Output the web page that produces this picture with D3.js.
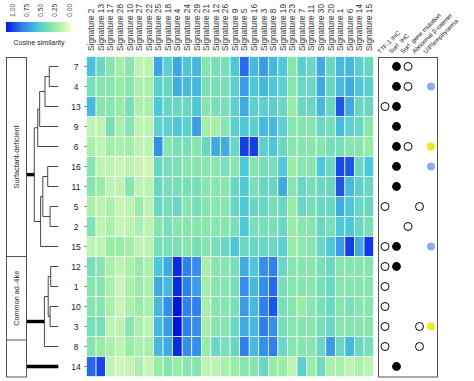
<!DOCTYPE html>
<html><head><meta charset="utf-8">
<script src="https://cdn.jsdelivr.net/npm/d3@7"></script>
<style>body{margin:0;background:#fff}svg{display:block;font-family:"Liberation Sans",Arial,sans-serif}</style>
</head><body>
<svg id="c" width="474" height="381"></svg>
<script>
const signatures = ["Signature 2","Signature 13","Signature 17","Signature 28","Signature 10","Signature 27","Signature 22","Signature 25","Signature 18","Signature 4","Signature 24","Signature 29","Signature 21","Signature 12","Signature 26","Signature 9","Signature 5","Signature 16","Signature 3","Signature 8","Signature 19","Signature 23","Signature 7","Signature 11","Signature 30","Signature 20","Signature 1","Signature 6","Signature 14","Signature 15"];
const samples = ["7","4","13","9","6","16","11","5","2","15","12","1","10","3","8","14"];
const similarity = [
 [0.52,0.4,0.3,0.22,0.3,0.15,0.15,0.62,0.45,0.62,0.5,0.55,0.3,0.35,0.35, 0.5,0.8,0.55,0.65,0.55,0.5,0.3,0.45,0.4,0.6,0.4,0.55,0.55,0.45,0.4],
 [0.35,0.3,0.3,0.25,0.3,0.2,0.2,0.45,0.4,0.6,0.55,0.55,0.35,0.35,0.35, 0.45,0.65,0.5,0.55,0.5,0.45,0.3,0.4,0.4,0.6,0.4,0.55,0.6,0.5,0.45],
 [0.55,0.3,0.3,0.25,0.35,0.2,0.2,0.5,0.4,0.4,0.4,0.5,0.3,0.35,0.35, 0.45,0.6,0.45,0.45,0.45,0.4,0.25,0.4,0.4,0.55,0.4,0.85,0.6,0.4,0.4],
 [0.15,0.15,0.35,0.2,0.3,0.15,0.15,0.45,0.45,0.5,0.45,0.65,0.22,0.22,0.3, 0.45,0.5,0.45,0.55,0.55,0.45,0.3,0.3,0.3,0.4,0.35,0.55,0.45,0.4,0.3],
 [0.2,0.15,0.22,0.2,0.22,0.15,0.15,0.7,0.3,0.35,0.35,0.3,0.4,0.6,0.6, 0.4,0.9,0.9,0.45,0.5,0.4,0.3,0.3,0.3,0.3,0.35,0.35,0.3,0.3,0.25],
 [0.3,0.15,0.15,0.12,0.15,0.12,0.1,0.4,0.35,0.35,0.3,0.3,0.3,0.3,0.35, 0.3,0.5,0.3,0.35,0.35,0.5,0.25,0.3,0.3,0.5,0.4,0.88,0.85,0.4,0.5],
 [0.3,0.25,0.15,0.15,0.3,0.15,0.15,0.4,0.35,0.35,0.35,0.35,0.3,0.3,0.3, 0.4,0.5,0.35,0.4,0.4,0.6,0.3,0.4,0.35,0.4,0.4,0.85,0.55,0.45,0.4],
 [0.2,0.15,0.2,0.12,0.15,0.25,0.15,0.4,0.35,0.4,0.3,0.35,0.3,0.3,0.3, 0.4,0.5,0.4,0.4,0.35,0.4,0.25,0.4,0.35,0.4,0.4,0.6,0.5,0.4,0.4],
 [0.32,0.15,0.2,0.12,0.15,0.2,0.15,0.3,0.35,0.3,0.3,0.3,0.3,0.3,0.3, 0.35,0.5,0.35,0.35,0.35,0.4,0.25,0.3,0.3,0.4,0.35,0.5,0.5,0.4,0.35],
 [0.15,0.15,0.25,0.25,0.22,0.15,0.15,0.35,0.35,0.35,0.3,0.35,0.3,0.35,0.4, 0.5,0.4,0.4,0.4,0.4,0.45,0.25,0.28,0.3,0.4,0.5,0.65,0.9,0.6,0.92],
 [0.35,0.3,0.2,0.15,0.2,0.25,0.2,0.5,0.6,0.95,0.75,0.7,0.2,0.3,0.3, 0.35,0.6,0.5,0.7,0.75,0.4,0.3,0.3,0.3,0.35,0.4,0.3,0.3,0.3,0.3],
 [0.3,0.3,0.2,0.12,0.2,0.25,0.2,0.6,0.55,0.95,0.75,0.65,0.22,0.3,0.3, 0.35,0.7,0.55,0.7,0.8,0.35,0.3,0.3,0.3,0.35,0.4,0.3,0.3,0.3,0.3],
 [0.3,0.3,0.2,0.12,0.2,0.25,0.2,0.55,0.7,1.0,0.75,0.75,0.2,0.3,0.3, 0.35,0.65,0.55,0.75,0.85,0.35,0.3,0.25,0.3,0.35,0.4,0.3,0.35,0.3,0.3],
 [0.35,0.35,0.15,0.15,0.3,0.2,0.15,0.55,0.65,1.0,0.75,0.7,0.2,0.3,0.3, 0.4,0.6,0.55,0.75,0.7,0.35,0.3,0.3,0.3,0.35,0.4,0.3,0.3,0.3,0.3],
 [0.3,0.25,0.2,0.15,0.25,0.2,0.2,0.55,0.6,0.95,0.7,0.7,0.25,0.4,0.35, 0.4,0.75,0.55,0.7,0.75,0.4,0.3,0.3,0.3,0.4,0.65,0.4,0.55,0.4,0.35],
 [0.8,0.88,0.15,0.1,0.12,0.2,0.12,0.25,0.3,0.25,0.3,0.3,0.15,0.15,0.2, 0.25,0.3,0.3,0.4,0.25,0.25,0.15,0.45,0.25,0.38,0.2,0.2,0.15,0.2,0.15]
];
const legendTicks = [1.00, 0.75, 0.50, 0.25, 0.00];
const annotationNames = ["TTF-1 IHC","Surf. IHC","Surf. gene mutation","Abnormal \u03b2-catenin","UIP/emphysema"];
// 1 = positive (filled), 0 = negative (open), null = none
const ttf1 = [null,null,0,null,null,null,null,0,null,0,0,0,0,0,0,null];
const surfIHC = [1,1,1,1,1,1,1,null,null,1,1,null,null,null,null,1];
const surfMutation = [0,0,null,null,0,null,null,null,0,null,null,null,null,null,null,null];
const betaCatenin = [null,null,null,null,null,null,null,0,null,null,null,null,null,0,0,null];
const uipEmphysema = [null,"Emphysema",null,null,"UIP","Emphysema",null,null,null,"Emphysema",null,null,null,"UIP",null,null];
const groups = ["Surfactant-deficient","Common ad.-like",""];
const dendro = [
 {h:0.76, children:[
   {h:0.65, children:[{h:0.59, children:[{h:0.42, children:[{h:0.285, children:[{leaf:"7"},{leaf:"4"}]},{leaf:"13"}]},{leaf:"9"}]},{leaf:"6"}]},
   {h:0.56, children:[{h:0.49, children:[{h:0.335, children:[{leaf:"16"},{leaf:"11"}]},{h:0.26, children:[{leaf:"5"},{leaf:"2"}]}]},{leaf:"15"}]}
 ]},
 {h:0.44, children:[{h:0.32, children:[{h:0.24, children:[{leaf:"12"},{leaf:"1"}]},{h:0.26, children:[{leaf:"10"},{leaf:"3"}]}]},{leaf:"8"}]},
 {leaf:"14"}
];

const svg = d3.select("#c");
svg.append("rect").attr("width",474).attr("height",381).attr("fill","#fff");

const color = d3.scaleLinear().domain([0,0.25,0.5,0.75,1])
  .range(["#f6fcc4","#96eea4","#4cc8d8","#2f7fee","#0016df"]).clamp(true);

const x = d3.scaleBand().domain(signatures).range([86.5, 373.6]);
const y = d3.scaleBand().domain(samples).range([56.5, 376.5]);

// heatmap
const cells = [];
samples.forEach((s,i)=>signatures.forEach((g,j)=>cells.push({s,g,v:similarity[i][j]})));
svg.append("g").selectAll("rect").data(cells).join("rect")
  .attr("x",d=>x(d.g)).attr("y",d=>y(d.s))
  .attr("width",x.bandwidth()).attr("height",y.bandwidth())
  .attr("fill",d=>color(d.v)).attr("stroke","#fff").attr("stroke-width",0.7);

// column labels
svg.append("g").selectAll("text").data(signatures).join("text")
  .attr("transform",d=>`translate(${x(d)+x.bandwidth()/2+3},51) rotate(-90)`)
  .attr("text-anchor","start").attr("font-size",8.3).attr("fill","#333")
  .text(d=>d);

// row ticks
const ya = svg.append("g").attr("transform","translate(86.5,0)")
  .call(d3.axisLeft(y).tickSize(2).tickFormat(""));
ya.select(".domain").remove();
ya.selectAll("line").attr("stroke","#666");

// row labels
svg.append("g").selectAll("text").data(samples).join("text")
  .attr("x",76).attr("y",d=>y(d)+y.bandwidth()/2+3)
  .attr("text-anchor","middle").attr("font-size",8.5).attr("fill","#222").text(d=>d);

// dendrogram
const hx = d3.scaleLinear().domain([0,1]).range([58.3,26.7]);
const dg = svg.append("g").attr("fill","none");
function layout(n){
  if(n.leaf){ n.x = hx(0); n.y = y(n.leaf)+y.bandwidth()/2; return; }
  n.children.forEach(layout);
  n.x = hx(n.h);
  n.y = d3.mean(n.children, c=>c.y);
}
function draw(n){
  if(n.leaf) return;
  dg.append("line").attr("x1",n.x).attr("x2",n.x)
    .attr("y1",d3.min(n.children,c=>c.y)).attr("y2",d3.max(n.children,c=>c.y))
    .attr("stroke","#333").attr("stroke-width",0.9);
  n.children.forEach(c=>{
    dg.append("line").attr("x1",n.x).attr("x2",c.x).attr("y1",c.y).attr("y2",c.y)
      .attr("stroke","#333").attr("stroke-width",0.9);
    draw(c);
  });
}
dendro.forEach(r=>{
  layout(r); draw(r);
  dg.append("line").attr("x1",26.5).attr("x2",r.x).attr("y1",r.y).attr("y2",r.y)
    .attr("stroke","#000").attr("stroke-width",3.4);
});

// left group box
const gb = svg.append("g");
gb.append("rect").attr("x",6.5).attr("y",57.5).attr("width",20).attr("height",319.5)
  .attr("fill","none").attr("stroke","#444").attr("stroke-width",0.9);
const groupBounds = [[57.5,256.5],[256.5,340],[340,377]];
groupBounds.slice(1).forEach(b=>gb.append("line").attr("x1",6.5).attr("x2",26.5).attr("y1",b[0]).attr("y2",b[0]).attr("stroke","#444").attr("stroke-width",0.9));
groups.forEach((g,i)=>{
  const cy = (groupBounds[i][0]+groupBounds[i][1])/2;
  gb.append("text").attr("transform",`translate(19,${cy}) rotate(-90)`)
    .attr("text-anchor","middle").attr("font-size",7.3).attr("fill","#222").text(g);
});

// legend
const lx = d3.scaleLinear().domain([1,0]).range([12,69]);
const defs = svg.append("defs");
const grad = defs.append("linearGradient").attr("id","lg").attr("x1","0%").attr("x2","100%");
d3.range(0,1.0001,0.05).forEach(t=>{
  grad.append("stop").attr("offset",(t*100)+"%").attr("stop-color",color(1-t));
});
svg.append("rect").attr("x",6).attr("y",22).attr("width",65).attr("height",10).attr("fill","url(#lg)");
svg.append("g").selectAll("text").data(legendTicks).join("text")
  .attr("transform",d=>`translate(${lx(d)+2.5},17) rotate(-90)`)
  .attr("text-anchor","start").attr("font-size",6.8).attr("fill","#333")
  .text(d=>d3.format(".2f")(d));
svg.append("text").attr("x",39).attr("y",45).attr("text-anchor","middle")
  .attr("font-size",7).attr("fill","#222").text("Cosine similarity");

// annotation panel
const ax = d3.scalePoint().domain(annotationNames).range([385,431]);
svg.append("rect").attr("x",378.5).attr("y",57.5).attr("width",59).attr("height",319.5)
  .attr("fill","none").attr("stroke","#555").attr("stroke-width",1);
svg.append("g").selectAll("text").data(annotationNames).join("text")
  .attr("transform",d=>`translate(${ax(d)-5},54) rotate(-45)`)
  .attr("font-size",6.2).attr("fill","#222").text(d=>d);
const binCols = [ttf1, surfIHC, surfMutation, betaCatenin];
const ag = svg.append("g");
binCols.forEach((col,k)=>{
  col.forEach((v,i)=>{
    if(v===null) return;
    ag.append("circle").attr("cx",ax(annotationNames[k])).attr("cy",y(samples[i])+y.bandwidth()/2)
      .attr("r",v?4.4:4).attr("fill",v?"#000":"#fff").attr("stroke","#000").attr("stroke-width",v?0:1);
  });
});
const uipColor = {"UIP":"#e8ec1c","Emphysema":"#8eaff0"};
uipEmphysema.forEach((v,i)=>{
  if(!v) return;
  ag.append("circle").attr("cx",ax(annotationNames[4])).attr("cy",y(samples[i])+y.bandwidth()/2)
    .attr("r",4).attr("fill",uipColor[v]);
});
</script>
</body></html>
